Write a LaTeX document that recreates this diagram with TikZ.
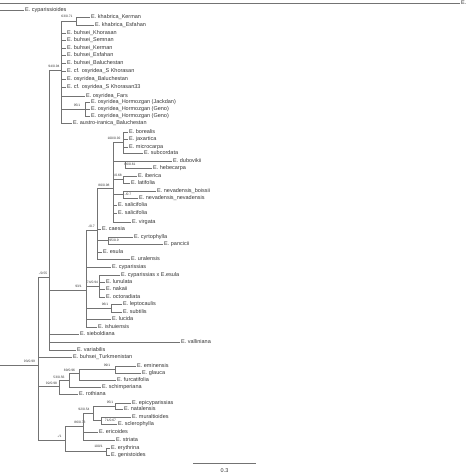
\documentclass[tikz,border=0pt]{standalone}
\usepackage{fontspec}
\setmainfont{Liberation Sans}

\begin{document}
\begin{tikzpicture}[x=1pt,y=-1pt,
  br/.style={draw=black!55, line width=0.7pt},
  tip/.style={anchor=west, inner sep=1pt, font=\fontsize{5.5}{6}\selectfont, text=black!80},
  bs/.style={inner sep=0pt, font=\fontsize{3.3}{4}\selectfont, text=black!80}]
\useasboundingbox (0,0) rectangle (474,474);

% Root and outgroups
\coordinate (root) at (-1,200);
\node[tip] (tE) at (460,3) {E.};
\node[tip] (tCyp) at (24,10) {E. cyparissioides};
\coordinate (n9399) at (38,365); \node[bs] (s9399) at (29.5,361.5) {93/0.99};
\draw[br] (root) |- (tE.west); \draw[br] (root) |- (tCyp.west); \draw[br] (root) |- (n9399);

% Ingroup
\coordinate (nA) at (49,277); \node[bs] (sA) at (43,273.5) {-/0.55};
\node[tip] (tTur) at (72,357) {E. buhsei\_Turkmenistan};
\coordinate (nC) at (59,386); \node[bs] (sC) at (51.5,383) {92/0.98};
\coordinate (nD) at (65,440); \node[bs] (sD) at (59.5,436) {-/1};
\draw[br] (n9399) |- (nA); \draw[br] (n9399) |- (tTur.west); \draw[br] (n9399) |- (nC); \draw[br] (n9399) |- (nD);

% Clade A
\coordinate (n9494) at (61,70); \node[bs] (s9494) at (54,66.5) {94/0.94};
\coordinate (n931) at (86,290); \node[bs] (s931) at (78.5,286.5) {93/1};
\node[tip] (tSie) at (79,334) {E. sieboldiana};
\node[tip] (tVal) at (180,342) {E. valliniana};
\node[tip] (tVar) at (76,350) {E. variabilis};
\draw[br] (nA) |- (n9494); \draw[br] (nA) |- (n931); \draw[br] (nA) |- (tSie.west); \draw[br] (nA) |- (tVal.west); \draw[br] (nA) |- (tVar.west);

% 94/0.94
\coordinate (n6371) at (76,21); \node[bs] (s6371) at (67,16.5) {63/0.71};
\node[tip] (tKhK) at (90,17) {E. khabrica\_Kerman};
\node[tip] (tKhE) at (94,25) {E. khabrica\_Esfahan};
\node[tip] (tBKho) at (66,33) {E. buhsei\_Khorasan};
\node[tip] (tBSem) at (66,40) {E. buhsei\_Semnan};
\node[tip] (tBKer) at (66,48) {E. buhsei\_Kerman};
\node[tip] (tBEsf) at (66,55) {E. buhsei\_Esfahan};
\node[tip] (tBBal) at (66,63) {E. buhsei\_Baluchestan};
\node[tip] (tOSK) at (66,71) {E. cf. osyridea\_S Khorasan};
\node[tip] (tOBal) at (66,79) {E. osyridea\_Baluchestan};
\node[tip] (tOSK33) at (66,87) {E. cf. osyridea\_S Khorasan33};
\node[tip] (tOFar) at (85,96) {E. osyridea\_Fars};
\coordinate (n951a) at (85,109); \node[bs] (s951a) at (77,105.5) {95/1};
\node[tip] (tHJ) at (90,102) {E. osyridea\_Hormozgan (Jackdan)};
\node[tip] (tHG1) at (90,109) {E. osyridea\_Hormozgan (Geno)};
\node[tip] (tHG2) at (90,116) {E. osyridea\_Hormozgan (Geno)};
\node[tip] (tAus) at (72,123) {E. austro-iranica\_Baluchestan};
\draw[br] (n6371) |- (tKhK.west); \draw[br] (n6371) |- (tKhE.west);
\draw[br] (n951a) |- (tHJ.west); \draw[br] (n951a) |- (tHG1.west); \draw[br] (n951a) |- (tHG2.west);
\foreach \c in {n6371,tBKho.west,tBSem.west,tBKer.west,tBEsf.west,tBBal.west,tOSK.west,tOBal.west,tOSK33.west,tOFar.west,n951a,tAus.west}
  \draw[br] (n9494) |- (\c);

% 93/1
\coordinate (n07) at (97,230); \node[bs] (s07) at (91.5,226) {-/0.7};
\node[tip] (tCys) at (111,267) {E. cyparissias};
\coordinate (n7494) at (99,286); \node[bs] (s7494) at (92.5,282.5) {74/0.94};
\coordinate (n961) at (111,308); \node[bs] (s961) at (105,304) {96/1};
\node[tip] (tLuc) at (111,319) {E. lucida};
\node[tip] (tIsh) at (97,327) {E. ishuiensis};
\foreach \c in {n07,tCys.west,n7494,n961,tLuc.west,tIsh.west}
  \draw[br] (n931) |- (\c);

% -/0.7
\coordinate (n8098) at (113,188); \node[bs] (s8098) at (104,185) {80/0.98};
\node[tip] (tCae) at (101,229) {E. caesia};
\coordinate (n959) at (108,240); \node[bs] (s959) at (114,240.5) {95/0.9};
\node[tip] (tEsu) at (102,252) {E. esula};
\node[tip] (tUra) at (130,259) {E. uralensis};
\foreach \c in {n8098,tCae.west,n959,tEsu.west,tUra.west}
  \draw[br] (n07) |- (\c);
\node[tip] (tCyr) at (133,237) {E. cyrtophylla};
\node[tip] (tPan) at (163,244) {E. pancicii};
\draw[br] (n959) |- (tCyr.west); \draw[br] (n959) |- (tPan.west);

% 80/0.98
\coordinate (n10092) at (123,142); \node[bs] (s10092) at (114,138.5) {100/0.92};
\coordinate (n8661) at (125,161); \node[bs] (s8661) at (130,164.5) {86/0.61};
\coordinate (n068) at (123,179); \node[bs] (s068) at (117.5,175.5) {-/0.68};
\coordinate (n07b) at (123,194); \node[bs] (s07b) at (128,194.5) {-/0.7};
\node[tip] (tSal1) at (117,205) {E. salicifolia};
\node[tip] (tSal2) at (117,213) {E. salicifolia};
\node[tip] (tVir) at (131,222) {E. virgata};
\foreach \c in {n10092,n8661,n068,n07b,tSal1.west,tSal2.west,tVir.west}
  \draw[br] (n8098) |- (\c);
\node[tip] (tBor) at (128,132) {E. borealis};
\node[tip] (tJax) at (128,139) {E. jaxartica};
\node[tip] (tMic) at (128,147) {E. microcarpa};
\node[tip] (tSub) at (143,153) {E. subcordata};
\foreach \c in {tBor,tJax,tMic,tSub}
  \draw[br] (n10092) |- (\c.west);
\node[tip] (tDub) at (172,161) {E. dubovikii};
\node[tip] (tHeb) at (152,168) {E. hebecarpa};
\draw[br] (n8661) |- (tDub.west); \draw[br] (n8661) |- (tHeb.west);
\node[tip] (tIbe) at (137,176) {E. iberica};
\node[tip] (tLat) at (130,183) {E. latifolia};
\draw[br] (n068) |- (tIbe.west); \draw[br] (n068) |- (tLat.west);
\node[tip] (tNvB) at (156,191) {E. nevadensis\_boissii};
\node[tip] (tNvN) at (138,198) {E. nevadensis\_nevadensis};
\draw[br] (n07b) |- (tNvB.west); \draw[br] (n07b) |- (tNvN.west);

% 74/0.94 and 96/1
\node[tip] (tCxE) at (120,275) {E. cyparissias x E.esula};
\node[tip] (tLun) at (105,282) {E. lunulata};
\node[tip] (tNak) at (105,289) {E. nakaii};
\node[tip] (tOct) at (105,297) {E. octoradiata};
\foreach \c in {tCxE,tLun,tNak,tOct}
  \draw[br] (n7494) |- (\c.west);
\node[tip] (tLep) at (122,304) {E. leptocaulis};
\node[tip] (tSbt) at (122,312) {E. subtilis};
\draw[br] (n961) |- (tLep.west); \draw[br] (n961) |- (tSbt.west);

% Clade C
\coordinate (n5356) at (69,380); \node[bs] (s5356) at (59,377) {53/0.56};
\node[tip] (tRot) at (78,394) {E. rothiana};
\draw[br] (nC) |- (n5356); \draw[br] (nC) |- (tRot.west);
\coordinate (n8996) at (79,373); \node[bs] (s8996) at (69.5,370) {89/0.96};
\node[tip] (tSch) at (101,387) {E. schimperiana};
\draw[br] (n5356) |- (n8996); \draw[br] (n5356) |- (tSch.west);
\coordinate (n991) at (115,369.5); \node[bs] (s991) at (107,365) {99/1};
\node[tip] (tFur) at (116,380) {E. furcatifolia};
\draw[br] (n8996) |- (n991); \draw[br] (n8996) |- (tFur.west);
\node[tip] (tEmi) at (136,366) {E. eminensis};
\node[tip] (tGla) at (141,373) {E. glauca};
\draw[br] (n991) |- (tEmi.west); \draw[br] (n991) |- (tGla.west);

% Clade D
\coordinate (n8673) at (83,426); \node[bs] (s8673) at (80,422.5) {86/0.73};
\coordinate (n1001) at (106,451); \node[bs] (s1001) at (98.5,446.5) {100/1};
\draw[br] (nD) |- (n8673); \draw[br] (nD) |- (n1001);
\coordinate (n9254) at (93,413); \node[bs] (s9254) at (84,409.5) {92/0.54};
\node[tip] (tEri) at (98,432) {E. ericoides};
\node[tip] (tStr) at (115,440) {E. striata};
\draw[br] (n8673) |- (n9254); \draw[br] (n8673) |- (tEri.west); \draw[br] (n8673) |- (tStr.west);
\coordinate (n951b) at (115,406); \node[bs] (s951b) at (110,402) {95/1};
\coordinate (n7167) at (101,420); \node[bs] (s7167) at (110.5,420.5) {71/0.67};
\draw[br] (n9254) |- (n951b); \draw[br] (n9254) |- (n7167);
\node[tip] (tEpi) at (131,403) {E. epicyparissias};
\node[tip] (tNat) at (123,409) {E. natalensis};
\draw[br] (n951b) |- (tEpi.west); \draw[br] (n951b) |- (tNat.west);
\node[tip] (tMur) at (131,417) {E. muraltioides};
\node[tip] (tScl) at (117,424) {E. sclerophylla};
\draw[br] (n7167) |- (tMur.west); \draw[br] (n7167) |- (tScl.west);
\node[tip] (tEry) at (110,448) {E. erythrina};
\node[tip] (tGen) at (110,455) {E. genistoides};
\draw[br] (n1001) |- (tEry.west); \draw[br] (n1001) |- (tGen.west);

% Scale bar
\coordinate (sbL) at (193,463); \coordinate (sbR) at (256,463);
\draw[br] (sbL) -- (sbR);
\node[bs, font=\fontsize{5.5}{6}\selectfont] (sbT) at (224.5,471) {0.3};
\end{tikzpicture}
\end{document}
